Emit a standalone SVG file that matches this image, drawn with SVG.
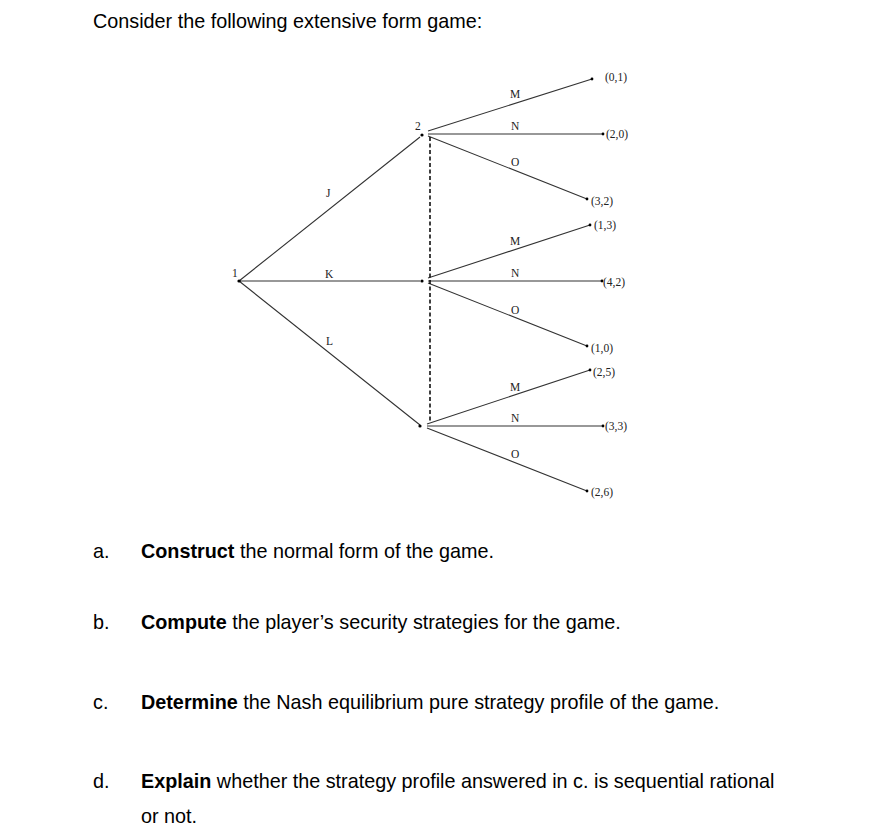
<svg xmlns="http://www.w3.org/2000/svg" width="892" height="835" viewBox="0 0 892 835">
<style>
.t{font-family:"Liberation Sans",Arial,sans-serif;font-size:19.8px;fill:#000}
.l{font-family:"Liberation Serif","Times New Roman",serif;font-size:11.5px;fill:#222}
.e{stroke:#333;stroke-width:1.1;fill:none}
</style>
<rect width="892" height="835" fill="#fff"/>
<text class="t" x="93" y="28">Consider the following extensive form game:</text>
<g id="connectors">
<path class="e" d="M239,281 L420,137 M239,281 L420,281 M239,281 L420,425"/>
<path class="e" d="M428,131 L592,79 M428,134 L603,134 M428,136 L587,199"/>
<path class="e" d="M428,278 L590,225 M428,281 L602,281 M428,283 L587,346"/>
<path class="e" d="M427,424 L590,370 M427,426 L603,426 M427,428 L587,491"/>
<path d="M430,137 V423" stroke="#000" stroke-width="1.5" stroke-dasharray="4,2.5" fill="none"/>
</g>
<g id="nodes" fill="#000">
<circle cx="239" cy="281" r="1.6"/><circle cx="422" cy="135" r="1.6"/><circle cx="422" cy="281" r="1.6"/><circle cx="420" cy="426" r="1.6"/>
<circle cx="592" cy="79" r="1.4"/><circle cx="603" cy="134" r="1.4"/><circle cx="587" cy="199" r="1.4"/>
<circle cx="590" cy="225" r="1.4"/><circle cx="602" cy="281" r="1.4"/><circle cx="587" cy="346" r="1.4"/>
<circle cx="590" cy="370" r="1.4"/><circle cx="603" cy="426" r="1.4"/><circle cx="587" cy="491" r="1.4"/>
</g>
<g id="labels">
<text class="l" x="232" y="277">1</text><text class="l" x="415" y="130">2</text>
<text class="l" x="326" y="197">J</text><text class="l" x="325" y="278">K</text><text class="l" x="326" y="345">L</text>
<text class="l" x="510" y="98">M</text><text class="l" x="511" y="130">N</text><text class="l" x="511" y="166">O</text>
<text class="l" x="510" y="245">M</text><text class="l" x="511" y="277">N</text><text class="l" x="511" y="314">O</text>
<text class="l" x="510" y="391">M</text><text class="l" x="511" y="422">N</text><text class="l" x="511" y="458">O</text>
<text class="l" x="605" y="81">(0,1)</text><text class="l" x="606" y="138">(2,0)</text><text class="l" x="591" y="205">(3,2)</text>
<text class="l" x="594" y="229">(1,3)</text><text class="l" x="603" y="286">(4,2)</text><text class="l" x="591" y="352">(1,0)</text>
<text class="l" x="593" y="376">(2,5)</text><text class="l" x="605" y="430">(3,3)</text><text class="l" x="591" y="496">(2,6)</text>
</g>
<g id="questions">
<text class="t" x="93" y="558">a.</text><text class="t" x="141" y="558"><tspan font-weight="bold">Construct</tspan> the normal form of the game.</text>
<text class="t" x="93" y="629">b.</text><text class="t" x="141" y="629"><tspan font-weight="bold">Compute</tspan> the player’s security strategies for the game.</text>
<text class="t" x="93" y="709">c.</text><text class="t" x="141" y="709"><tspan font-weight="bold">Determine</tspan> the Nash equilibrium pure strategy profile of the game.</text>
<text class="t" x="93" y="788">d.</text><text class="t" x="141" y="788"><tspan font-weight="bold">Explain</tspan> whether the strategy profile answered in c. is sequential rational</text>
<text class="t" x="141" y="823">or not.</text>
</g>
</svg>
